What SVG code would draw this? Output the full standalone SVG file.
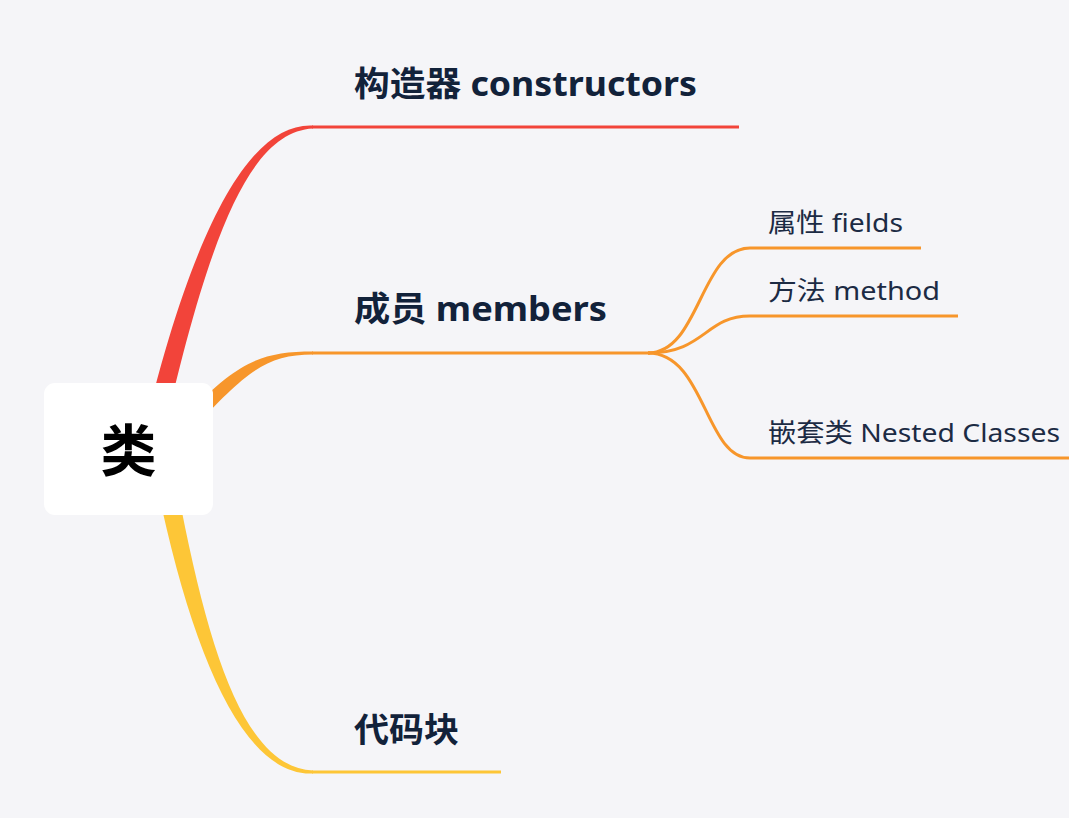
<svg xmlns="http://www.w3.org/2000/svg" width="1069" height="818" viewBox="0 0 1069 818">
<style>
.t1{font-family:"Noto Sans","Noto Sans CJK SC",sans-serif;font-weight:bold;font-size:34px;fill:#12223a}
.t2{font-family:"Noto Sans","Noto Sans CJK SC",sans-serif;font-size:26px;fill:#1c2b44}
.root{font-family:"Noto Sans CJK SC",sans-serif;font-weight:bold;font-size:56px;fill:#000}
.ln{fill:none;stroke-width:3;stroke-linecap:butt}
</style>
<rect width="1069" height="818" fill="#f5f5f8"/>
<g id="connectors">
<path d="M313,125.5 C250,122 191.2,228 140.3,446.8 L159.8,451.2 C208.8,232 250,132 313,128.5 Z" fill="#f2443a"/>
<line class="ln" x1="312" y1="127" x2="739" y2="127" stroke="#f2443a"/>
<path d="M313,351.5 C262,351.5 238,362 190,412 L190,432 C246,372 266,354.5 313,354.5 Z" fill="#f7962b"/>
<line class="ln" x1="312" y1="353" x2="650" y2="353" stroke="#f7962b"/>
<path class="ln" d="M648,353 C700,353 700,248 750,248 L921,248" stroke="#f7962b" stroke-width="2.5"/>
<path class="ln" d="M648,353 C705,353 705,316 750,316 L958,316" stroke="#f7962b" stroke-width="2.5"/>
<path class="ln" d="M648,353 C705,353 705,458 750,458 L1069,458" stroke="#f7962b" stroke-width="2.5"/>
<path d="M313,773.5 C240,777 186.2,641.8 150.2,451 L169.8,447 C203.8,638.2 240,767 313,770.5 Z" fill="#fdc637"/>
<line class="ln" x1="312" y1="772" x2="501" y2="772" stroke="#fdc637"/>
</g>
<g id="root">
<rect x="44" y="383" width="169" height="132" rx="11" fill="#fff"/>
<text class="root" x="128.5" y="471" text-anchor="middle">类</text>
</g>
<g id="n-constructors"><text class="t1" x="354" y="96" textLength="343" lengthAdjust="spacingAndGlyphs">构造器 constructors</text></g>
<g id="n-members"><text class="t1" x="354" y="321" textLength="253" lengthAdjust="spacingAndGlyphs">成员 members</text></g>
<g id="n-code"><text class="t1" x="354" y="742" textLength="105" lengthAdjust="spacingAndGlyphs">代码块</text></g>
<g id="n-fields"><text class="t2" x="768" y="232" textLength="135" lengthAdjust="spacingAndGlyphs">属性 fields</text></g>
<g id="n-method"><text class="t2" x="768" y="300" textLength="172" lengthAdjust="spacingAndGlyphs">方法 method</text></g>
<g id="n-nested"><text class="t2" x="768" y="442" textLength="292" lengthAdjust="spacingAndGlyphs">嵌套类 Nested Classes</text></g>
</svg>
